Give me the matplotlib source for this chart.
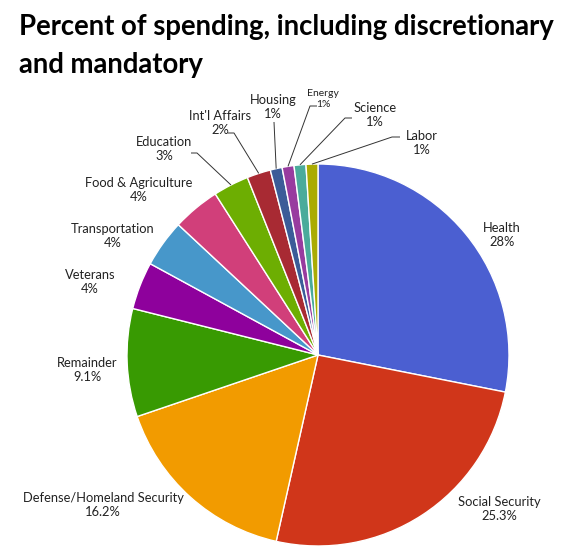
import matplotlib
matplotlib.use("Agg")
import matplotlib.pyplot as plt
import numpy as np

# spending shares, clockwise from 12 o'clock
categories = ["Health", "Social Security", "Defense/Homeland Security", "Remainder",
              "Veterans", "Transportation", "Food & Agriculture", "Education",
              "Int'l Affairs", "Housing", "Energy", "Science", "Labor"]
values = [28, 25.3, 16.2, 9.1, 4, 4, 4, 3, 2, 1, 1, 1, 1]
value_labels = ["28%", "25.3%", "16.2%", "9.1%", "4%", "4%", "4%", "3%",
                "2%", "1%", "1%", "1%", "1%"]
colors = ["#4b5fd1", "#d0361a", "#f29b00", "#389a02", "#8e019c", "#4797ca",
          "#d13f7a", "#6dae02", "#a82a33", "#3b5c98", "#983b9f", "#4aab9b",
          "#aaab03"]

# label layout in pixel coords (x, y from top of image)
label_pos = [(502, 235), (499, 509), (103, 505), (87, 370), (90, 282),
             (113, 236), (139, 190), (164, 149), (220, 123), (273, 107),
             (323, 99), (375, 115), (422, 143)]
# leader lines for the small slices: start near text -> elbow -> slice edge
leaders = {
    "Education": [(191, 153), (197, 153)],
    "Int'l Affairs": [(228, 133), (234, 133)],
    "Housing": [(274, 122), (274, 122)],
    "Energy": [(317, 106), (310, 106)],
    "Science": [(352, 118), (345, 118)],
    "Labor": [(400, 137), (392, 137)],
}

W, H = 564, 555
cx, cy, r = 318, 355, 191

fig = plt.figure(figsize=(W / 100, H / 100), dpi=100)
ax = fig.add_axes([0, 0, 1, 1])

wedges, _ = ax.pie(values, colors=colors, startangle=90, counterclock=False,
                   center=(cx, H - cy), radius=r,
                   wedgeprops=dict(edgecolor="white", linewidth=1.0))
ax.set_xlim(0, W)
ax.set_ylim(0, H)
ax.set_aspect("equal")
ax.axis("off")

font = ["Lato", "DejaVu Sans"]
for i, w in enumerate(wedges):
    name = categories[i]
    x, y = label_pos[i]
    fs = 7.5 if name == "Energy" else 9.3
    ax.text(x, H - y, name + "\n" + value_labels[i], ha="center", va="center",
            fontsize=fs, family=font, color="#222222", linespacing=1.25)
    if name in leaders:
        p0, p1 = leaders[name]
        ang = np.deg2rad((w.theta1 + w.theta2) / 2)
        ex = cx + r * np.cos(ang)
        ey = (H - cy) + r * np.sin(ang)
        ax.plot([p0[0], p1[0], ex], [H - p0[1], H - p1[1], ey], color="#333333",
                lw=0.7, solid_capstyle="butt")

fig.text(19 / W, 1 - 46 / H, "Percent of spending, including discretionary\nand mandatory",
         ha="left", va="center", fontsize=19.8, fontweight="bold", family=font,
         linespacing=1.55)

fig.savefig("out.png", dpi=100)
